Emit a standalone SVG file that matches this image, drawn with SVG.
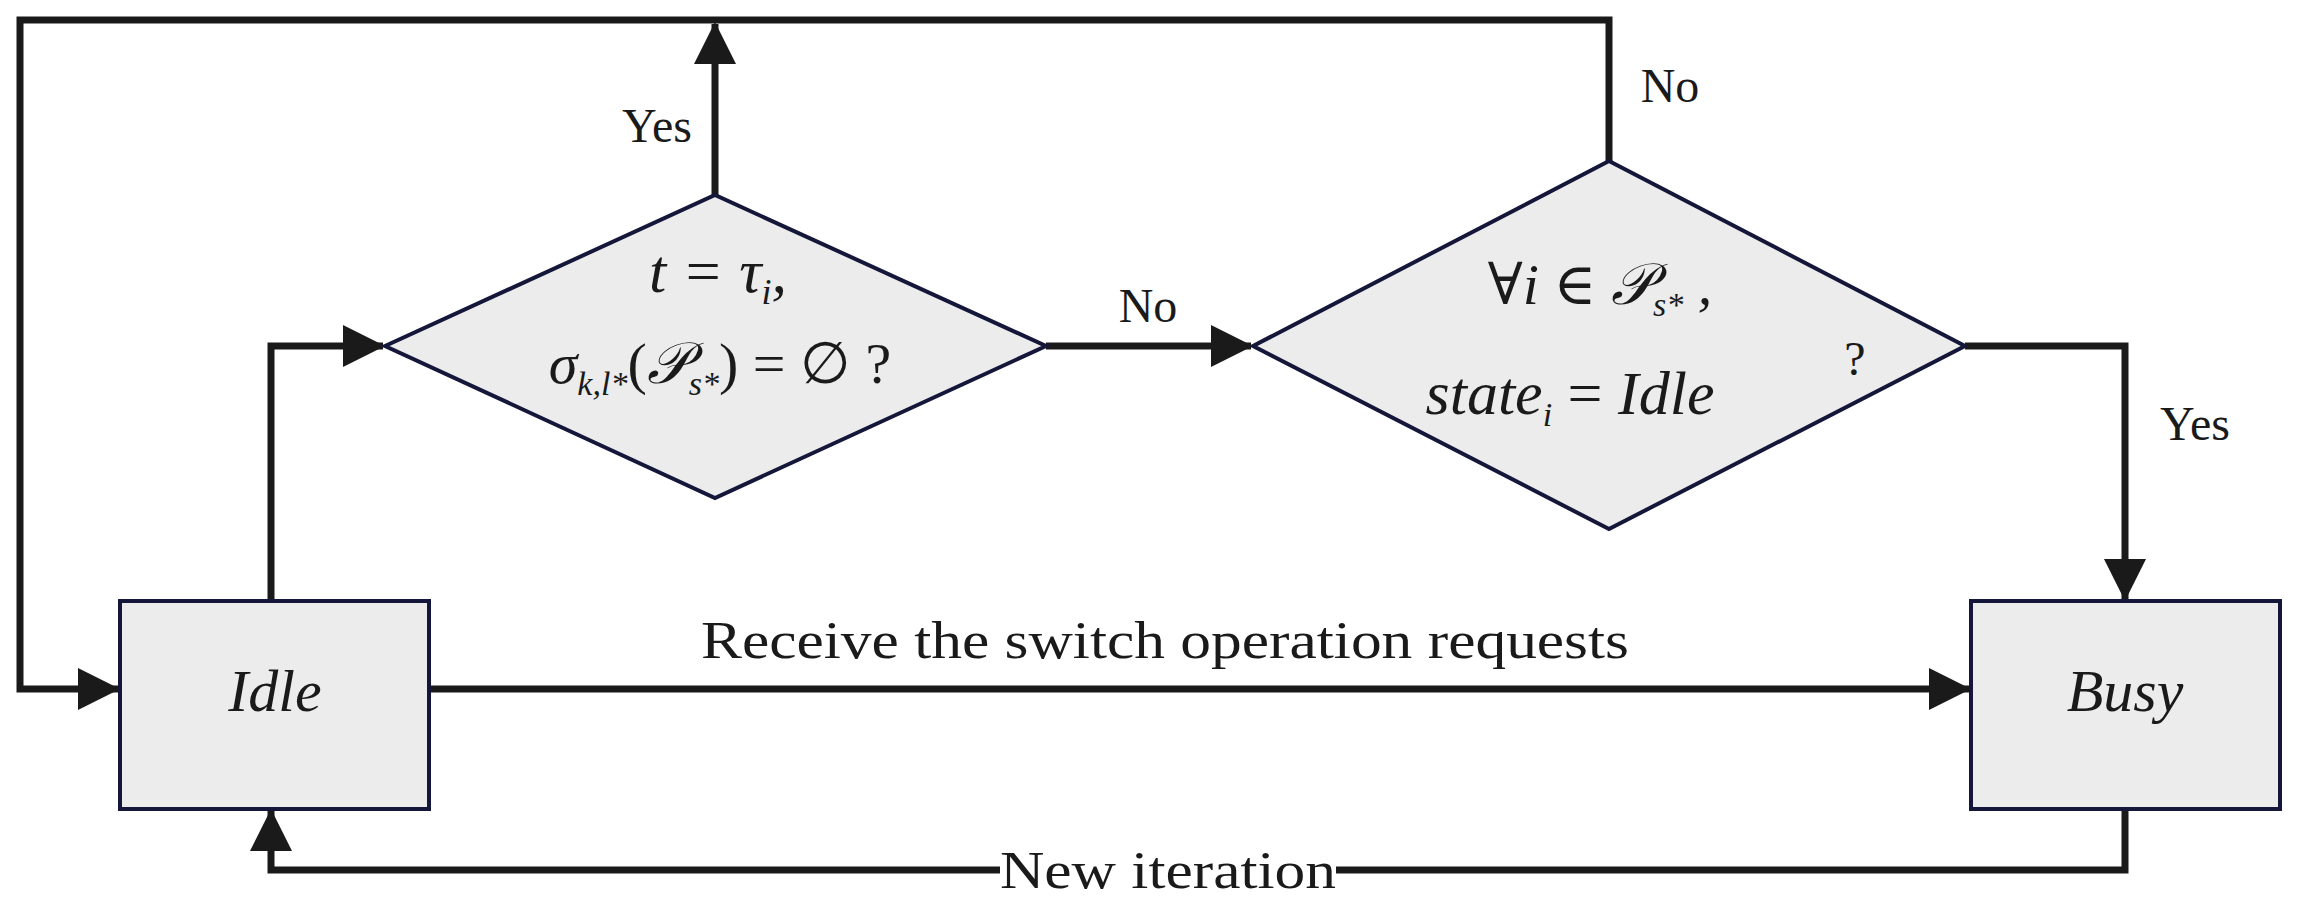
<svg xmlns="http://www.w3.org/2000/svg" width="2298" height="911" viewBox="0 0 2298 911">
<defs>
<marker id="ah" markerUnits="userSpaceOnUse" markerWidth="42" markerHeight="42" refX="40" refY="21" orient="auto"><path d="M0,0 L42,21 L0,42 Z" fill="#1a1a1a"/></marker>
<style>
.c{fill:none;stroke:#1a1a1a;stroke-width:7}
.n{fill:#ebeceb;stroke:#15173a;stroke-width:4}
.t{font-family:"Liberation Serif",serif;fill:#1a1a1a}
.m{font-family:"Liberation Serif","DejaVu Serif",serif;fill:#1a1a1a;font-style:italic}
</style>
</defs>
<rect width="2298" height="911" fill="#fff"/>
<g id="connectors">
<path class="c" d="M715,195 V24" marker-end="url(#ah)"/>
<path class="c" d="M1609,161 V20 H20 V689 H118" marker-end="url(#ah)"/>
<path class="c" d="M271,601 V346 H383" marker-end="url(#ah)"/>
<path class="c" d="M1046,346 H1251" marker-end="url(#ah)"/>
<path class="c" d="M1965,346 H2125 V599" marker-end="url(#ah)"/>
<path class="c" d="M429,689 H1969" marker-end="url(#ah)"/>
<path class="c" d="M2125,809 V870 H271 V811" marker-end="url(#ah)"/>
</g>
<g id="idle"><rect class="n" x="120" y="601" width="309" height="208"/><text class="t" x="275" y="711" font-size="60" font-style="italic" text-anchor="middle">Idle</text></g>
<g id="busy"><rect class="n" x="1971" y="601" width="309" height="208"/><text class="t" x="2125" y="711" font-size="60" font-style="italic" text-anchor="middle">Busy</text></g>
<g id="decision1"><polygon class="n" points="385,346 715,195 1046,346 715,498"/>
<text class="m" x="718" y="292" font-size="62" text-anchor="middle">t = τ<tspan font-size="36" dy="12">i</tspan><tspan dy="-12">,</tspan></text>
<text class="m" x="720" y="383" font-size="58" text-anchor="middle">σ<tspan font-size="34" dy="12">k,l*</tspan><tspan dy="-12" font-style="normal">(</tspan>𝒫<tspan font-size="34" dy="12">s*</tspan><tspan dy="-12" font-style="normal">) = ∅ ?</tspan></text>
</g>
<g id="decision2"><polygon class="n" points="1253,346 1609,161 1965,346 1609,529"/>
<text class="m" x="1600" y="304" font-size="58" text-anchor="middle"><tspan font-style="normal">∀</tspan>i ∈ 𝒫<tspan font-size="34" dy="12">s*</tspan><tspan dy="-12"> ,</tspan></text>
<text class="m" x="1570" y="414" font-size="62" text-anchor="middle">state<tspan font-size="34" dy="12">i</tspan><tspan dy="-12" font-style="normal"> = </tspan>Idle</text>
<text class="t" x="1855" y="375" font-size="48" text-anchor="middle">?</text>
</g>
<g id="labels">
<text class="t" x="657" y="142" font-size="48" text-anchor="middle">Yes</text>
<text class="t" x="1148" y="322" font-size="48" text-anchor="middle">No</text>
<text class="t" x="1670" y="102" font-size="48" text-anchor="middle">No</text>
<text class="t" x="2195" y="440" font-size="48" text-anchor="middle">Yes</text>
<text class="t" x="1165" y="658" font-size="52" text-anchor="middle" textLength="928" lengthAdjust="spacingAndGlyphs">Receive the switch operation requests</text>
<rect x="1000" y="845" width="336" height="50" fill="#fff"/>
<text class="t" x="1168" y="888" font-size="52" text-anchor="middle" textLength="336" lengthAdjust="spacingAndGlyphs">New iteration</text>
</g>
</svg>
